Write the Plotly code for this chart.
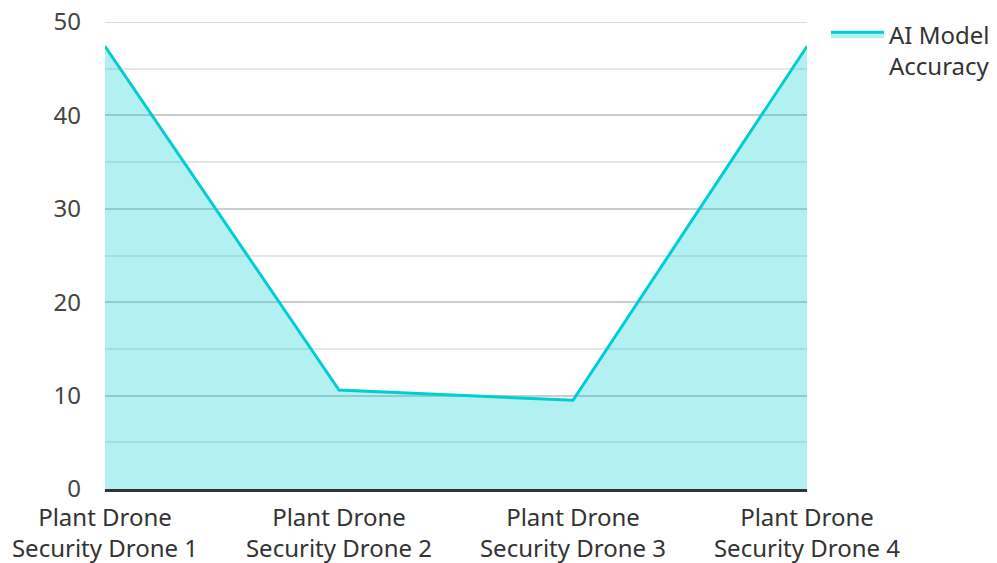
import plotly.graph_objects as go

categories = ["Plant Drone<br>Security Drone 1", "Plant Drone<br>Security Drone 2",
              "Plant Drone<br>Security Drone 3", "Plant Drone<br>Security Drone 4"]
accuracy = [47.4, 10.6, 9.5, 47.4]
series_name = "AI Model<br>Accuracy"
y_ticks = [0, 10, 20, 30, 40, 50]

fig = go.Figure()
fig.add_trace(go.Scatter(
    x=categories, y=accuracy, name=series_name, mode="lines",
    fill="tozeroy", fillcolor="rgba(0,206,209,0.3)",
    line=dict(color="#00CED1", width=3),
))

# top gridline (plotly drops gridlines on the exact range edge)
fig.add_shape(type="line", xref="paper", x0=0, x1=1, yref="y",
              y0=y_ticks[-1], y1=y_ticks[-1], layer="below",
              line=dict(color="#cccccc", width=1.5))

fig.update_layout(
    width=997, height=563,
    margin=dict(l=97, r=198, t=14, b=82, autoexpand=False),
    paper_bgcolor="white", plot_bgcolor="white",
    font=dict(family="Noto Sans, Open Sans, sans-serif", size=24, color="#333"),
    showlegend=True,
    legend=dict(x=1.027, y=1.021, xanchor="left", yanchor="top", valign="top",
                font=dict(size=24, color="#333"), itemwidth=53),
    xaxis=dict(range=[0, 3], showgrid=False, showline=True, linecolor="#333",
               linewidth=3, ticks="", tickfont=dict(size=24, color="#333"),
               zeroline=False, automargin=False, ticklabelstandoff=5,
               ticklabeloverflow="allow"),
    yaxis=dict(range=[0, 50], tickvals=y_ticks, showgrid=True, gridcolor="#cccccc",
               gridwidth=1.5, showline=False, zeroline=False, ticks="",
               tickfont=dict(size=24, color="#444"), ticklabelstandoff=23,
               automargin=False, ticklabeloverflow="allow",
               minor=dict(dtick=5, showgrid=True, gridcolor="#e6e6e6", gridwidth=1.5)),
)
fig.write_html("out.html")
